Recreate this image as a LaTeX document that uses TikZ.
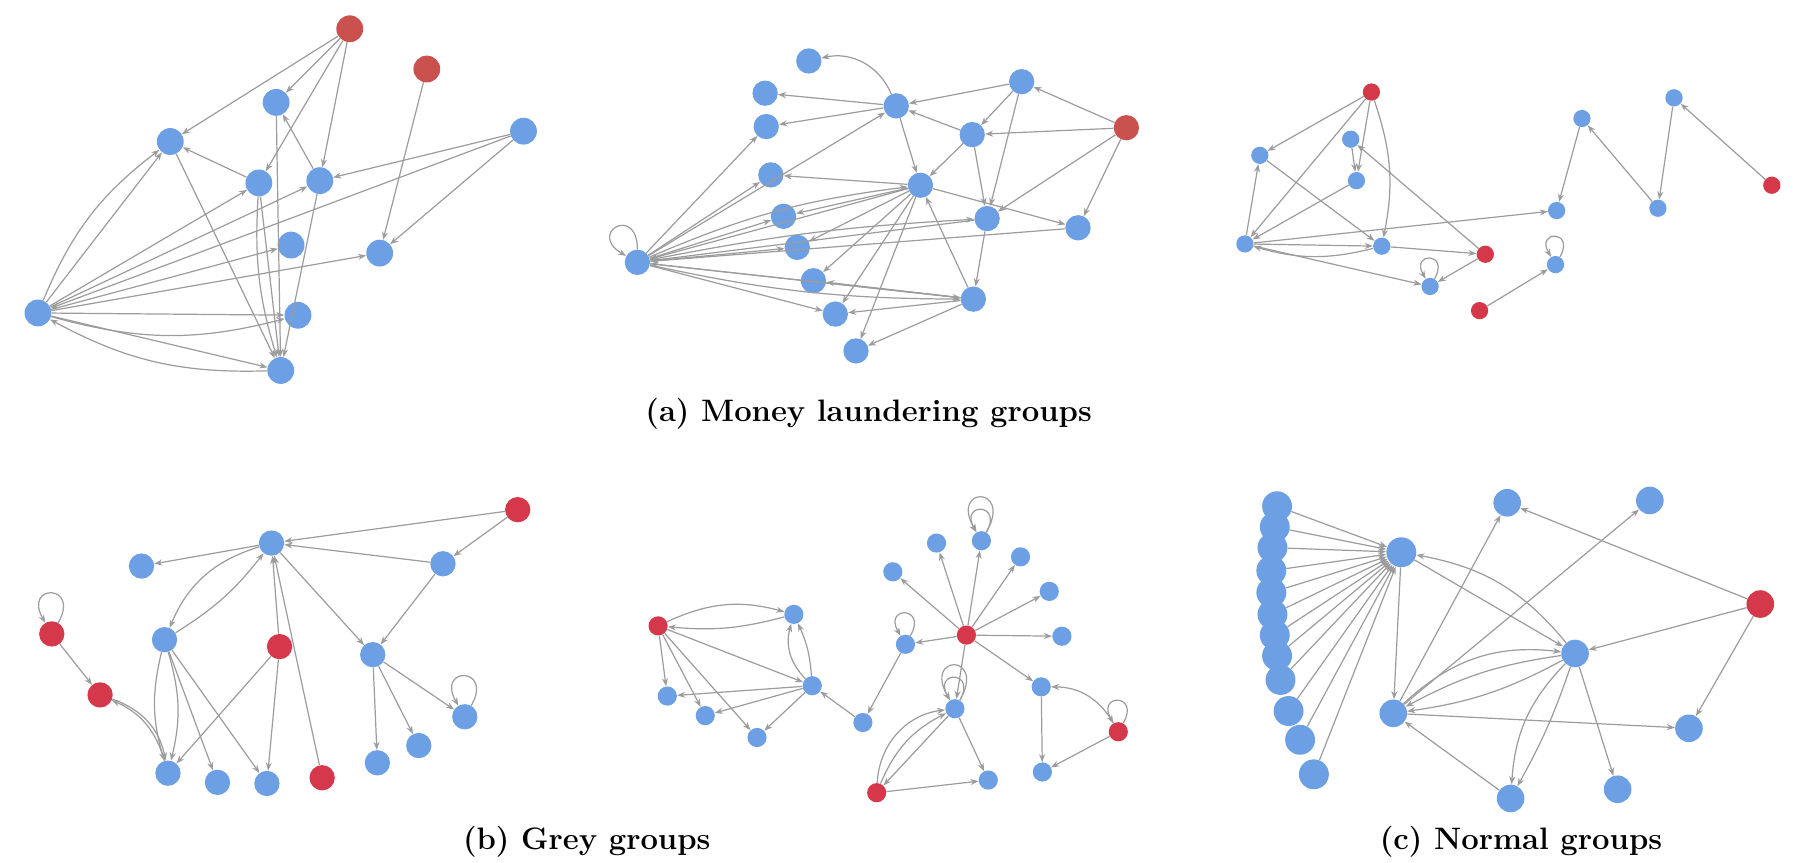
\documentclass[tikz,border=0pt]{standalone}
\usetikzlibrary{arrows.meta}
\tikzset{
  bl/.style={circle, fill=nblue, inner sep=0pt, minimum size=#1},
  bl/.default=0.66cm,
  rd/.style={circle, fill=nred, inner sep=0pt, minimum size=#1},
  rd/.default=0.66cm,
  ed/.style={draw=egray, line width=0.9pt, -{Stealth[length=6pt,width=4.5pt]}},
  lp/.style={ed, looseness=9, out=60, in=120},
  captxt/.style={font=\bfseries\fontsize{23}{26}\selectfont}
}
\definecolor{nblue}{HTML}{6C9FE3}
\definecolor{nred}{HTML}{D4384A}
\definecolor{ored}{HTML}{C9524F}
\definecolor{egray}{HTML}{9C9C9C}
\begin{document}
\begin{tikzpicture}[x=0.03cm, y=-0.03cm]
  \useasboundingbox (0,0) rectangle (1568,750);

  % (a) left graph
  \node[rd=0.7cm, fill=ored] (ar1) at (304,25) {};
  \node[rd=0.7cm, fill=ored] (ar2) at (371,60) {};
  \node[bl=0.7cm] (aa) at (240,89) {};
  \node[bl=0.7cm] (ab) at (148,123) {};
  \node[bl=0.7cm] (ac) at (225,159) {};
  \node[bl=0.7cm] (ad) at (278,157) {};
  \node[bl=0.7cm] (ae) at (455,114) {};
  \node[bl=0.7cm] (af) at (253,213) {};
  \node[bl=0.7cm] (ag) at (330,220) {};
  \node[bl=0.7cm] (ah) at (259,274) {};
  \node[bl=0.7cm] (ai) at (244,322) {};
  \node[bl=0.7cm] (ahub) at (33,272) {};
  \foreach \s/\t in {ar1/aa, ar1/ab, ar1/ac, ar1/ad, ar2/ag, ad/aa, ae/ad, ac/ab, aa/ai, ab/ai, ad/ai, ac/ai, ae/ahub, ae/ag}
    \draw[ed] (\s) -- (\t);
  \foreach \t in {ab, ac, ad, af, ag, ah, ai}
    \draw[ed] (ahub) -- (\t);
  \draw[ed] (ahub) to[bend left=15] (ab);
  \draw[ed] (ahub) to[bend right=15] (ah);
  \draw[ed] (ai) to[bend left=15] (ahub);
  \draw[ed] (ac) to[bend right=10] (ai);

  % (a) middle graph
  \node[bl] (bn1) at (703,53) {};
  \node[bl] (bn2) at (665,81) {};
  \node[bl] (bn3) at (779,92) {};
  \node[bl] (bn4) at (888,71) {};
  \node[bl] (bn5) at (666,110) {};
  \node[bl] (bn6) at (845,117) {};
  \node[rd, fill=ored] (br) at (979,111) {};
  \node[bl] (bn7) at (670,152) {};
  \node[bl] (bn8) at (800,161) {};
  \node[bl] (bn9) at (681,188) {};
  \node[bl] (bn10) at (858,190) {};
  \node[bl] (bn11) at (937,198) {};
  \node[bl] (bn12) at (693,215) {};
  \node[bl] (bhub) at (554,228) {};
  \node[bl] (bn13) at (707,244) {};
  \node[bl] (bn14) at (846,260) {};
  \node[bl] (bn15) at (726,273) {};
  \node[bl] (bn16) at (744,305) {};
  \draw[ed] (bhub) to[lp, in=150, out=90] (bhub);
  \draw[ed] (bn3) to[bend right=40] (bn1);
  \foreach \s/\t in {bn3/bn2, bn3/bn5, bn4/bn3, br/bn4, br/bn6, br/bn10, br/bn11, bn4/bn6, bn4/bn10, bn6/bn3, bn6/bn8, bn8/bn7, bn8/bn9, bn8/bn12, bn8/bn13, bn8/bhub, bn10/bhub, bn11/bhub, bn14/bhub, bn14/bn8, bn14/bn13, bn14/bn15, bn14/bn16, bn8/bn16, bn6/bn10, bn8/bn11, bn3/bn8, bhub/bn3, bhub/bn5, bhub/bn7, bhub/bn9, bhub/bn12, bhub/bn14, bhub/bn15, bn8/bn15, bn10/bn14}
    \draw[ed] (\s) -- (\t);
  \draw[ed] (bhub) to[bend left=8] (bn8);
  \draw[ed] (bhub) to[bend left=4] (bn10);
  \draw[ed] (bhub) to[bend right=6] (bn14);

  % (a) right graph
  \node[rd=0.45cm] (cr1) at (1192,80) {};
  \node[bl=0.45cm] (cn1) at (1095,135) {};
  \node[bl=0.45cm] (cn2) at (1174,121) {};
  \node[bl=0.45cm] (cn3) at (1179,157) {};
  \node[bl=0.45cm] (chub) at (1082,212) {};
  \node[bl=0.45cm] (cn4) at (1201,214) {};
  \node[rd=0.45cm] (cr2) at (1291,221) {};
  \node[bl=0.45cm] (cn5) at (1243,249) {};
  \node[rd=0.45cm] (cr3) at (1286,270) {};
  \node[bl=0.45cm] (cn6) at (1375,103) {};
  \node[bl=0.45cm] (cn7) at (1455,85) {};
  \node[rd=0.45cm] (cr4) at (1540,161) {};
  \node[bl=0.45cm] (cn8) at (1441,181) {};
  \node[bl=0.45cm] (cn9) at (1353,183) {};
  \node[bl=0.45cm] (cn10) at (1352,230) {};
  \foreach \s/\t in {cr1/cn1, cr1/cn3, cr1/chub, cn2/cn3, cn3/chub, chub/cn1, cn1/cn4, chub/cn4, chub/cn9, cn4/cr2, cr2/cn5, cr2/cn2, cn6/cn9, cn8/cn6, cn7/cn8, cr4/cn7, cr3/cn10, chub/cn5}
    \draw[ed] (\s) -- (\t);
  \draw[ed] (cr1) to[bend left=15] (cn4);
  \draw[ed] (cn4) to[bend left=15] (chub);
  \draw[ed] (cn5) to[lp] (cn5);
  \draw[ed] (cn10) to[lp] (cn10);

  % (b) grey groups, left
  \node[rd] (dr1) at (450,443) {};
  \node[bl] (dn1) at (236,472) {};
  \node[bl] (dn2) at (123,492) {};
  \node[bl] (dn3) at (385,490) {};
  \node[rd] (dr2) at (45,551) {};
  \node[bl] (dn4) at (143,556) {};
  \node[rd] (dr3) at (243,562) {};
  \node[bl] (dn5) at (324,569) {};
  \node[rd] (dr4) at (87,604) {};
  \node[bl] (dn6) at (404,623) {};
  \node[bl] (dn7) at (328,663) {};
  \node[bl] (dn8) at (364,648) {};
  \node[bl] (dn9) at (146,672) {};
  \node[bl] (dn10) at (189,680) {};
  \node[bl] (dn11) at (232,681) {};
  \node[rd] (dr5) at (280,676) {};
  \foreach \s/\t in {dr1/dn1, dr1/dn3, dn3/dn1, dn1/dn2, dn1/dn5, dr3/dn1, dr5/dn1, dr2/dr4, dn4/dn10, dn4/dn11, dr3/dn9, dr3/dn11, dn3/dn5, dn5/dn7, dn5/dn8, dn5/dn6}
    \draw[ed] (\s) -- (\t);
  \draw[ed] (dn1) to[bend right=25] (dn4);
  \draw[ed] (dn4) to[bend right=10] (dn1);
  \draw[ed] (dr4) to[bend left=30] (dn9);
  \draw[ed] (dn9) to[bend right=25] (dr4);
  \draw[ed] (dn4) to[bend left=15] (dn9);
  \draw[ed] (dn4) to[bend right=15] (dn9);
  \draw[ed] (dr2) to[lp] (dr2);
  \draw[ed] (dn6) to[lp] (dn6);

  % (b) grey groups, right
  \node[rd=0.5cm] (er1) at (572,544) {};
  \node[bl=0.5cm] (en1) at (690,534) {};
  \node[bl=0.5cm] (en2) at (706,596) {};
  \node[bl=0.5cm] (en3) at (580,605) {};
  \node[bl=0.5cm] (en4) at (613,622) {};
  \node[bl=0.5cm] (en5) at (658,641) {};
  \node[bl=0.5cm] (en6) at (750,628) {};
  \node[bl=0.5cm] (en7) at (787,560) {};
  \node[rd=0.5cm] (er2) at (840,552) {};
  \node[bl=0.5cm] (en8) at (776,497) {};
  \node[bl=0.5cm] (en9) at (814,472) {};
  \node[bl=0.5cm] (en10) at (853,470) {};
  \node[bl=0.5cm] (en11) at (887,484) {};
  \node[bl=0.5cm] (en12) at (912,514) {};
  \node[bl=0.5cm] (en13) at (923,553) {};
  \node[bl=0.5cm] (en14) at (905,597) {};
  \node[rd=0.5cm] (er3) at (972,636) {};
  \node[bl=0.5cm] (en15) at (830,616) {};
  \node[bl=0.5cm] (en16) at (906,671) {};
  \node[rd=0.5cm] (er4) at (762,689) {};
  \node[bl=0.5cm] (en17) at (859,678) {};
  \foreach \s/\t in {er1/en3, er1/en4, er1/en5, er1/en2, en2/en3, en2/en4, en2/en5, en6/en2, er2/en7, er2/en8, er2/en9, er2/en10, er2/en11, er2/en12, er2/en13, er2/en14, er2/en15, en7/en6, en15/en17, er4/en17, en14/en16, er3/en16, en15/er4}
    \draw[ed] (\s) -- (\t);
  \draw[ed] (er1) to[bend left=20] (en1);
  \draw[ed] (en1) to[bend left=10] (er1);
  \draw[ed] (en2) to[bend left=30] (en1);
  \draw[ed] (en2) to[bend right=10] (en1);
  \draw[ed] (er3) to[bend right=30] (en14);
  \draw[ed] (er4) to[bend left=20] (en15);
  \draw[ed] (er4) to[bend left=40] (en15);
  \draw[ed] (en7) to[lp] (en7);
  \draw[ed] (er3) to[lp] (er3);
  \draw[ed] (en10) to[lp] (en10);
  \draw[ed] (en10) to[lp, looseness=14] (en10);
  \draw[ed] (en15) to[lp] (en15);
  \draw[ed] (en15) to[lp, looseness=14] (en15);

  % (c) normal groups
  \foreach \i/\x/\y in {1/1110/440, 2/1108/458, 3/1106/476, 4/1105/496, 5/1105/515, 6/1106/534, 7/1108/552, 8/1110/570, 9/1113/591, 10/1120/618, 11/1130/643, 12/1142/673}
    \node[bl=0.78cm] (fl\i) at (\x,\y) {};
  \node[bl=0.78cm] (fhub) at (1218,480) {};
  \node[bl=0.72cm] (fn1) at (1310,437) {};
  \node[bl=0.72cm] (fn2) at (1434,435) {};
  \node[rd=0.72cm] (fr) at (1530,525) {};
  \node[bl=0.72cm] (fn3) at (1369,568) {};
  \node[bl=0.72cm] (fn4) at (1211,620) {};
  \node[bl=0.72cm] (fn5) at (1468,633) {};
  \node[bl=0.72cm] (fn6) at (1313,694) {};
  \node[bl=0.72cm] (fn7) at (1406,686) {};
  \foreach \i in {1,...,12}
    \draw[ed] (fl\i) -- (fhub);
  \foreach \s/\t in {fhub/fn4, fn4/fn1, fn4/fn2, fr/fn1, fr/fn3, fr/fn5, fn4/fn5, fn6/fn4, fn3/fn7, fhub/fn3}
    \draw[ed] (\s) -- (\t);
  \draw[ed] (fn3) to[bend right=20] (fhub);
  \draw[ed] (fn3) to[bend left=10] (fn4);
  \draw[ed] (fn3) to[bend right=10] (fn4);
  \draw[ed] (fn4) to[bend left=25] (fn3);
  \draw[ed] (fn3) to[bend right=20] (fn6);
  \draw[ed] (fn3) to[bend left=5] (fn6);

  % captions
  \node[captxt] (capa) at (755,360) {(a) Money laundering groups};
  \node[captxt] (capb) at (510,732) {(b) Grey groups};
  \node[captxt] (capc) at (1322,732) {(c) Normal groups};
\end{tikzpicture}
\end{document}
